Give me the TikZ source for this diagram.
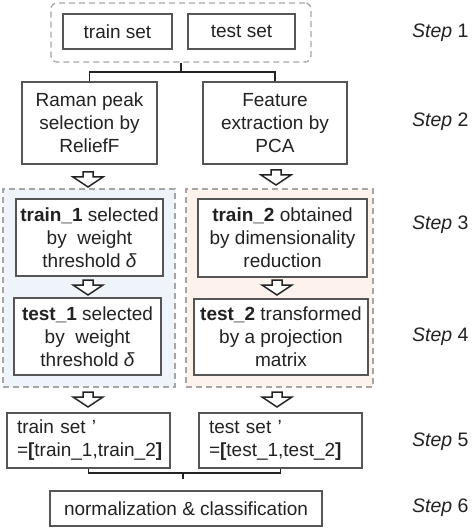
\documentclass[tikz,border=0pt]{standalone}
\usepackage{fontspec}
\setmainfont{Liberation Sans}
\definecolor{boxline}{HTML}{555555}
\definecolor{dashline}{HTML}{A6A6A6}
\definecolor{bluefill}{HTML}{EEF4F9}
\definecolor{orangefill}{HTML}{FDF2EC}
\definecolor{txt}{HTML}{222222}
\tikzset{
  box/.style={draw=boxline, line width=1.6pt, fill=white, align=center, inner sep=0pt,
    font=\fontsize{19}{23}\selectfont, text=txt},
  region/.style={draw=dashline, line width=1.3pt, dash pattern=on 6pt off 4pt, inner sep=0pt},
  conn/.style={draw=txt, line width=1.6pt},
  steplab/.style={anchor=west, inner sep=0pt, font=\fontsize{19.5}{23}\selectfont, text=txt},
  harrow/.pic={\draw[draw=txt, line width=1.5pt, fill=white, line join=miter]
     (-5,0) -- (5,0) -- (5,5) -- (15,5) -- (0,15) -- (-15,5) -- (-5,5) -- cycle;}
}
\begin{document}
\begin{tikzpicture}[x=1pt, y=-1pt]
\useasboundingbox (0,0) rectangle (474,529);
% regions
\node[region, rounded corners=6pt, minimum width=260, minimum height=59] (top) at (181,32.5) {};
\node[region, fill=bluefill, minimum width=172, minimum height=198] (blue) at (89,288) {};
\node[region, fill=orangefill, minimum width=187, minimum height=198] (orange) at (279.5,288) {};
% step 1
\node[box, minimum width=109, minimum height=35] (trainset) at (117.5,31.5) {train set};
\node[box, minimum width=107, minimum height=35] (testset) at (241.5,31.5) {test set};
% step 2
\node[box, minimum width=135, minimum height=82] (ram) at (89.5,123) {Raman peak\\selection by\\ReliefF};
\node[box, minimum width=144, minimum height=82] (pca) at (275,123) {Feature\\extraction by\\PCA};
% step 3/4
\node[box, minimum width=147, minimum height=77] (train1) at (89.5,237.5) {\textbf{train\_1} selected\\by\ \ weight\\threshold \textit{δ}};
\node[box, minimum width=147, minimum height=77] (test1) at (87.5,336.5) {\textbf{test\_1} selected\\by\ \ weight\\threshold \textit{δ}};
\node[box, minimum width=169, minimum height=78] (train2) at (282.5,238) {\textbf{train\_2} obtained\\by dimensionality\\reduction};
\node[box, minimum width=174, minimum height=76] (test2) at (281,337) {\textbf{test\_2} transformed\\by a projection\\matrix};
% step 5
\node[box, align=left, text width=143, inner xsep=10pt, minimum height=55] (trainsetp) at (88.5,440.5) {train set '\\=\textbf{[}train\_1,train\_2\textbf{]}};
\node[box, align=left, text width=143, inner xsep=10pt, minimum height=55] (testsetp) at (280.5,440.5) {test set '\\=\textbf{[}test\_1,test\_2\textbf{]}};
% step 6
\node[box, minimum width=272, minimum height=35] (final) at (186,508.5) {normalization \& classification};
% connectors
\coordinate (j1) at (181,72);
\draw[conn] (top.south) -- (j1);
\draw[conn] (ram.north) |- (j1) -| (pca.north);
\coordinate (j2) at (183,473);
\draw[conn] (trainsetp.south) |- (j2) -| (testsetp.south);
\coordinate (j3) at (183,478.5);
\draw[conn] (j2) -- (j3);
% hollow arrows
\coordinate (a1) at (88,172);
\coordinate (a2) at (276,170);
\coordinate (a3) at (88,280);
\coordinate (a4) at (277,280);
\coordinate (a5) at (88,392);
\coordinate (a6) at (277,392);
\foreach \a in {a1,a2,a3,a4,a5,a6} {\pic at (\a) {harrow};}
% step labels
\node[steplab] (s1) at (412,33) {\textit{Step} 1};
\node[steplab] (s2) at (412,122) {\textit{Step} 2};
\node[steplab] (s3) at (412,225) {\textit{Step} 3};
\node[steplab] (s4) at (412,337) {\textit{Step} 4};
\node[steplab] (s5) at (412,442) {\textit{Step} 5};
\node[steplab] (s6) at (412,508) {\textit{Step} 6};
\end{tikzpicture}
\end{document}
